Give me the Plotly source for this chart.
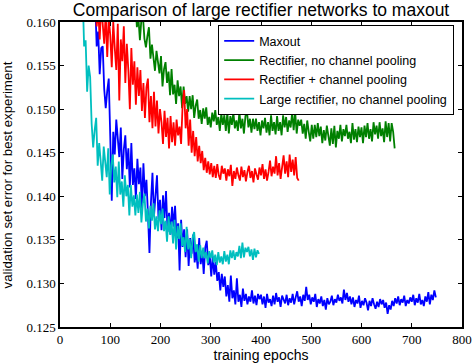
import plotly.graph_objects as go

# ---------------- data (one value every 3 epochs) ----------------
step = 3

maxout_start = 70
maxout = [
    0.1624, 0.1572, 0.1589, 0.1540, 0.1570, 0.1572, 0.1523, 0.1501, 0.1521, 0.1535,
    0.1469, 0.1395, 0.1474, 0.1448, 0.1488, 0.1468, 0.1445, 0.1479, 0.1420, 0.1454,
    0.1470, 0.1431, 0.1455, 0.1410, 0.1461, 0.1413, 0.1432, 0.1397, 0.1443, 0.1414,
    0.1433, 0.1386, 0.1438, 0.1400, 0.1419, 0.1380, 0.1335, 0.1393, 0.1427, 0.1377,
    0.1408, 0.1424, 0.1374, 0.1396, 0.1361, 0.1401, 0.1375, 0.1406, 0.1359, 0.1381,
    0.1356, 0.1388, 0.1365, 0.1389, 0.1352, 0.1369, 0.1315, 0.1373, 0.1342, 0.1362,
    0.1330, 0.1362, 0.1320, 0.1352, 0.1334, 0.1356, 0.1324, 0.1338, 0.1317, 0.1352,
    0.1322, 0.1337, 0.1311, 0.1341, 0.1349, 0.1321, 0.1333, 0.1308, 0.1331, 0.1310,
    0.1325, 0.1303, 0.1313, 0.1292, 0.1311, 0.1296, 0.1308, 0.1285, 0.1298, 0.1279,
    0.1309, 0.1283, 0.1292, 0.1276, 0.1306, 0.1279, 0.1287, 0.1273, 0.1294, 0.1280,
    0.1288, 0.1276, 0.1285, 0.1279, 0.1292, 0.1277, 0.1286, 0.1275, 0.1288, 0.1282,
    0.1287, 0.1276, 0.1285, 0.1272, 0.1288, 0.1278, 0.1282, 0.1274, 0.1286, 0.1276,
    0.1289, 0.1279, 0.1284, 0.1273, 0.1286, 0.1280, 0.1277, 0.1287, 0.1275, 0.1283,
    0.1278, 0.1288, 0.1276, 0.1284, 0.1291, 0.1279, 0.1285, 0.1274, 0.1287, 0.1280,
    0.1296, 0.1281, 0.1287, 0.1276, 0.1284, 0.1279, 0.1288, 0.1273, 0.1282, 0.1277,
    0.1285, 0.1274, 0.1281, 0.1270, 0.1283, 0.1276, 0.1279, 0.1286, 0.1275, 0.1282,
    0.1278, 0.1287, 0.1280, 0.1284, 0.1277, 0.1293, 0.1281, 0.1289, 0.1279, 0.1285,
    0.1276, 0.1284, 0.1273, 0.1281, 0.1277, 0.1286, 0.1272, 0.1280, 0.1275, 0.1283,
    0.1278, 0.1269, 0.1280, 0.1274, 0.1283, 0.1276, 0.1271, 0.1279, 0.1273, 0.1282,
    0.1276, 0.1281, 0.1272, 0.1278, 0.1265, 0.1275, 0.1270, 0.1280, 0.1274, 0.1283,
    0.1277, 0.1285, 0.1275, 0.1282, 0.1278, 0.1286, 0.1274, 0.1281, 0.1277, 0.1284,
    0.1279, 0.1287, 0.1275, 0.1283, 0.1278, 0.1288, 0.1276, 0.1281, 0.1274, 0.1285,
    0.1279, 0.1290, 0.1276, 0.1287, 0.1281, 0.1292, 0.1284,
]

rect_start = 150
rect_no_pool = [
    0.1624, 0.1594, 0.1605, 0.1579, 0.1603, 0.1607, 0.1581, 0.1571, 0.1584, 0.1594,
    0.1558, 0.1574, 0.1559, 0.1544, 0.1567, 0.1555, 0.1541, 0.1561, 0.1526, 0.1546,
    0.1554, 0.1530, 0.1543, 0.1516, 0.1546, 0.1517, 0.1528, 0.1506, 0.1533, 0.1515,
    0.1526, 0.1501, 0.1526, 0.1506, 0.1515, 0.1497, 0.1515, 0.1500, 0.1516, 0.1490,
    0.1504, 0.1511, 0.1489, 0.1499, 0.1483, 0.1501, 0.1489, 0.1502, 0.1482, 0.1491,
    0.1479, 0.1496, 0.1486, 0.1499, 0.1482, 0.1491, 0.1475, 0.1495, 0.1482, 0.1493,
    0.1475, 0.1496, 0.1472, 0.1492, 0.1482, 0.1496, 0.1478, 0.1487, 0.1475, 0.1497,
    0.1478, 0.1489, 0.1472, 0.1492, 0.1498, 0.1479, 0.1489, 0.1473, 0.1489, 0.1477,
    0.1489, 0.1475, 0.1485, 0.1470, 0.1487, 0.1478, 0.1490, 0.1473, 0.1485, 0.1470,
    0.1493, 0.1475, 0.1485, 0.1471, 0.1492, 0.1475, 0.1485, 0.1470, 0.1493, 0.1479,
    0.1491, 0.1474, 0.1487, 0.1479, 0.1496, 0.1476, 0.1497, 0.1472, 0.1488, 0.1481,
    0.1488, 0.1472, 0.1483, 0.1466, 0.1487, 0.1474, 0.1463, 0.1482, 0.1466, 0.1482,
    0.1468, 0.1484, 0.1469, 0.1480, 0.1461, 0.1476, 0.1464, 0.1481, 0.1469, 0.1458,
    0.1478, 0.1460, 0.1481, 0.1456, 0.1475, 0.1466, 0.1482, 0.1463, 0.1477, 0.1469,
    0.1482, 0.1466, 0.1474, 0.1461, 0.1484, 0.1465, 0.1477, 0.1462, 0.1480, 0.1468,
    0.1479, 0.1461, 0.1481, 0.1468, 0.1484, 0.1466, 0.1477, 0.1463, 0.1485, 0.1471,
    0.1481, 0.1466, 0.1485, 0.1469, 0.1478, 0.1462, 0.1486, 0.1468, 0.1484, 0.1463,
    0.1484, 0.1474, 0.1455,
]

pool_start = 70
rect_pool = [
    0.1630, 0.1595, 0.1615, 0.1580, 0.1620, 0.1600, 0.1575, 0.1610, 0.1560, 0.1605,
    0.1585, 0.1548, 0.1600, 0.1570, 0.1545, 0.1598, 0.1510, 0.1580, 0.1555, 0.1595,
    0.1530, 0.1575, 0.1545, 0.1500, 0.1570, 0.1528, 0.1555, 0.1505, 0.1548, 0.1515,
    0.1545, 0.1498, 0.1530, 0.1490, 0.1525, 0.1535, 0.1485, 0.1515, 0.1478, 0.1520,
    0.1480, 0.1510, 0.1472, 0.1500, 0.1485, 0.1460, 0.1498, 0.1468, 0.1490, 0.1455,
    0.1492, 0.1462, 0.1485, 0.1458, 0.1488, 0.1470, 0.1480, 0.1460, 0.1505, 0.1522,
    0.1478, 0.1500, 0.1458, 0.1488, 0.1450, 0.1475, 0.1446, 0.1468, 0.1440, 0.1458,
    0.1438, 0.1452, 0.1430, 0.1444, 0.1427, 0.1440, 0.1425, 0.1438, 0.1422, 0.1435,
    0.1421, 0.1437, 0.1424, 0.1419, 0.1435, 0.1426, 0.1432, 0.1418, 0.1431, 0.1423,
    0.1436, 0.1412, 0.1429, 0.1420, 0.1433, 0.1424, 0.1418, 0.1434, 0.1422, 0.1430,
    0.1417, 0.1428, 0.1435, 0.1421, 0.1429, 0.1416, 0.1432, 0.1425, 0.1419, 0.1433,
    0.1424, 0.1437, 0.1420, 0.1431, 0.1418, 0.1428, 0.1441, 0.1423, 0.1434, 0.1426,
    0.1446, 0.1424, 0.1438, 0.1420, 0.1432, 0.1447, 0.1426, 0.1440, 0.1422, 0.1448,
    0.1428, 0.1442, 0.1424, 0.1445, 0.1421, 0.1418,
]

large_start = 45
large_rect = [
    0.1634, 0.1572, 0.1579, 0.1520, 0.1550, 0.1537, 0.1483, 0.1456, 0.1476, 0.1490,
    0.1435, 0.1461, 0.1440, 0.1418, 0.1457, 0.1441, 0.1422, 0.1455, 0.1402, 0.1436,
    0.1448, 0.1416, 0.1434, 0.1399, 0.1440, 0.1402, 0.1417, 0.1388, 0.1424, 0.1400,
    0.1413, 0.1378, 0.1413, 0.1388, 0.1401, 0.1378, 0.1402, 0.1381, 0.1405, 0.1370,
    0.1392, 0.1403, 0.1371, 0.1386, 0.1363, 0.1389, 0.1372, 0.1392, 0.1362, 0.1377,
    0.1360, 0.1384, 0.1368, 0.1386, 0.1360, 0.1372, 0.1348, 0.1377, 0.1356, 0.1371,
    0.1346, 0.1373, 0.1339, 0.1366, 0.1351, 0.1369, 0.1343, 0.1353, 0.1336, 0.1365,
    0.1339, 0.1351, 0.1329, 0.1353, 0.1359, 0.1336, 0.1345, 0.1325, 0.1344, 0.1329,
    0.1341, 0.1329, 0.1336, 0.1323, 0.1337, 0.1329, 0.1338, 0.1324, 0.1333, 0.1321,
    0.1336, 0.1324, 0.1331, 0.1322, 0.1337, 0.1325, 0.1333, 0.1322, 0.1338, 0.1329,
    0.1338, 0.1327, 0.1336, 0.1331, 0.1343, 0.1329, 0.1347, 0.1330, 0.1341, 0.1336,
    0.1342, 0.1331, 0.1339, 0.1327, 0.1340, 0.1330, 0.1338, 0.1334,
]

series = [
    ("Maxout", maxout_start, maxout, "#0000ff"),
    ("Rectifier, no channel pooling", rect_start, rect_no_pool, "#008000"),
    ("Rectifier + channel pooling", pool_start, rect_pool, "#ff0000"),
    ("Large rectifier, no channel pooling", large_start, large_rect, "#00bfbf"),
]

x_ticks = [0, 100, 200, 300, 400, 500, 600, 700, 800]
y_ticks = [0.125, 0.130, 0.135, 0.140, 0.145, 0.150, 0.155, 0.160]

fig = go.Figure()
for name, start, vals, color in series:
    epochs = [start + step * i for i in range(len(vals))]
    fig.add_trace(go.Scatter(x=epochs, y=vals, mode="lines", name=name,
                             line=dict(color=color, width=1.8)))

tick_font = dict(family="Liberation Serif", size=13, color="black")
fig.update_layout(
    width=474, height=363,
    margin=dict(l=60, r=12, t=22, b=36),
    paper_bgcolor="white", plot_bgcolor="white",
    title=dict(text="Comparison of large rectifier networks to maxout",
               x=0.5507, xanchor="center", y=0.972, yanchor="middle",
               font=dict(family="Liberation Sans", size=17.5, color="black")),
    xaxis=dict(range=[0, 800], tickvals=x_ticks, ticktext=[str(v) for v in x_ticks],
               ticks="inside", ticklen=4, tickcolor="black", tickwidth=1,
               showline=True, linecolor="black", linewidth=1.5, mirror="allticks",
               showgrid=False, zeroline=False, tickfont=tick_font, automargin=False,
               title=dict(text="training epochs", standoff=4,
                          font=dict(family="Liberation Sans", size=14, color="black"))),
    yaxis=dict(range=[0.125, 0.160], tickvals=y_ticks, ticktext=["%.3f" % v for v in y_ticks],
               ticks="inside", ticklen=4, tickcolor="black", tickwidth=1,
               showline=True, linecolor="black", linewidth=1.5, mirror="allticks",
               showgrid=False, zeroline=False, tickfont=tick_font, automargin=False),
    annotations=[dict(text="validation set error for best experiment",
                      xref="paper", yref="paper", x=-0.1294, y=0.5,
                      xanchor="center", yanchor="middle", textangle=-90, showarrow=False,
                      font=dict(family="Liberation Sans", size=13.3, color="black"))],
    legend=dict(x=0.393, y=0.99, xanchor="left", yanchor="top",
                bgcolor="white", bordercolor="black", borderwidth=1.2,
                font=dict(family="Liberation Sans", size=12.5, color="black"),
                tracegroupgap=0, itemwidth=30),
    showlegend=True,
)

fig.write_html("out.html", config={"displayModeBar": False},
               post_script="document.body.style.margin='0';")
